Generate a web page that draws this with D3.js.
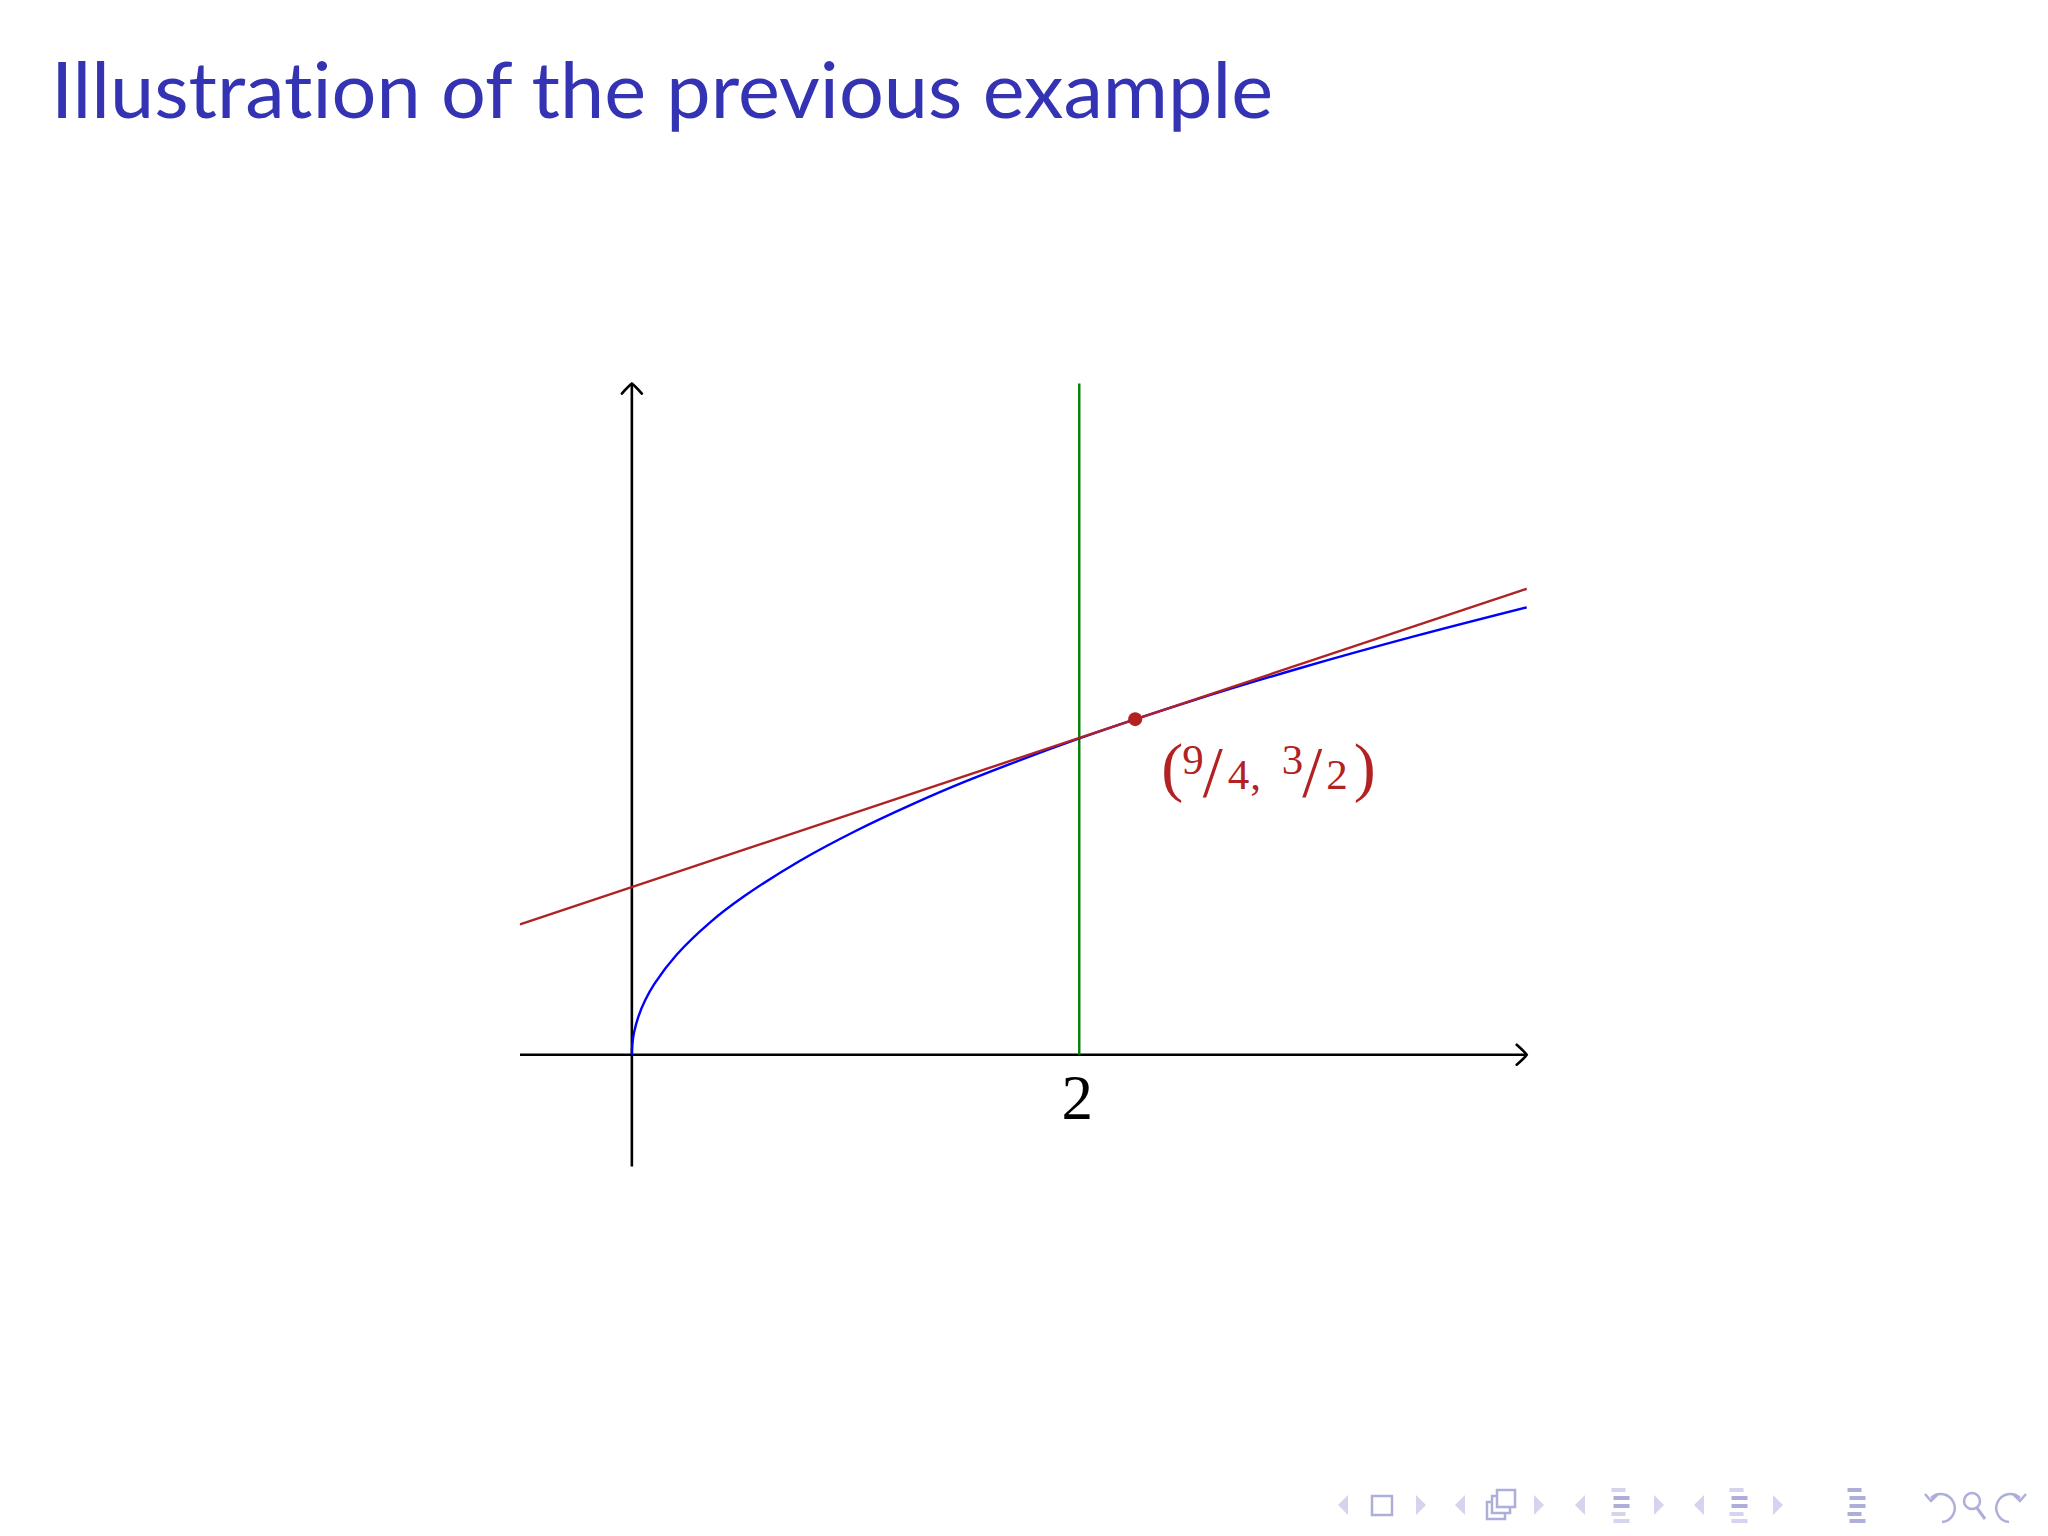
<!DOCTYPE html>
<html>
<head>
<meta charset="utf-8">
<script src="https://cdn.jsdelivr.net/npm/d3@7"></script>
<style>
  body { margin: 0; background: #fff; }
  svg { display: block; }
</style>
</head>
<body>
<script>
var curveX = [0, 0.002, 0.01, 0.03, 0.06, 0.1, 0.2, 0.35, 0.5, 0.75, 1, 1.25, 1.5, 2, 2.5, 3, 3.5, 4];
var curveY = [0, 0.045, 0.1, 0.173, 0.245, 0.316, 0.447, 0.592, 0.707, 0.866, 1, 1.118, 1.225, 1.414, 1.581, 1.732, 1.871, 2];
// red tangent line end points
var tangentX = [-0.5, 4];
var tangentY = [0.583, 2.083];
// green vertical line
var greenX = 2, greenY = [0, 3];
// marked point
var pointX = 2.25, pointY = 1.5;
var xTicks = [2];
var xExtent = [-0.5, 4], yExtent = [-0.5, 3];

var W = 2048, H = 1536;
var svg = d3.select("body").append("svg")
  .attr("width", W)
  .attr("height", H);

svg.append("text")
  .attr("x", 51)
  .attr("y", 118)
  .attr("fill", "#3333b3")
  .style("font-family", "Lato, 'Open Sans', sans-serif")
  .style("font-weight", 400)
  .style("font-variant-ligatures", "none")
  .style("font-feature-settings", "'liga' 0, 'dlig' 0")
  .style("font-size", "77px")
  .attr("textLength", 1222)
  .attr("lengthAdjust", "spacingAndGlyphs")
  .text("Illustration of the previous example");

var x = d3.scaleLinear().domain(xExtent).range([520, 1526.7]);
var y = d3.scaleLinear().domain(yExtent).range([1166.6, 383.6]);

var g = svg.append("g");

// arrow head, tikz "to" style
function arrowHead(px, py, angle) {
  g.append("path")
    .attr("d", "M-10,-10 Q-2,-3 0,0 Q-2,3 -10,10")
    .attr("transform", "translate(" + px + "," + py + ") rotate(" + angle + ")")
    .attr("fill", "none")
    .attr("stroke", "#000")
    .attr("stroke-width", 2.6)
    .attr("stroke-linecap", "round");
}

// x axis
g.append("line")
  .attr("x1", x(xExtent[0])).attr("x2", x(xExtent[1]))
  .attr("y1", y(0)).attr("y2", y(0))
  .attr("stroke", "#000").attr("stroke-width", 2.6);
arrowHead(x(xExtent[1]), y(0), 0);

// y axis
g.append("line")
  .attr("x1", x(0)).attr("x2", x(0))
  .attr("y1", y(yExtent[0])).attr("y2", y(yExtent[1]))
  .attr("stroke", "#000").attr("stroke-width", 2.6);
arrowHead(x(0), y(yExtent[1]), -90);

g.selectAll(".tick-label").data(xTicks).enter()
  .append("text")
  .attr("class", "tick-label")
  .attr("x", function (d) { return x(d) - 2; })
  .attr("y", 1119)
  .attr("text-anchor", "middle")
  .style("font-family", "'Liberation Serif', serif")
  .style("font-size", "63px")
  .text(function (d) { return d; });

// green line
g.append("line")
  .attr("x1", x(greenX)).attr("x2", x(greenX))
  .attr("y1", y(greenY[0])).attr("y2", y(greenY[1]))
  .attr("stroke", "#008000").attr("stroke-width", 2.4);

// blue curve
var curveData = curveX.map(function (d, i) { return [d, curveY[i]]; });
var line = d3.line()
  .x(function (d) { return x(d[0]); })
  .y(function (d) { return y(d[1]); })
  .curve(d3.curveCatmullRom.alpha(0.5));

g.append("path")
  .datum(curveData)
  .attr("d", line)
  .attr("fill", "none")
  .attr("stroke", "#0000ff")
  .attr("stroke-width", 2.4);

// red tangent
var tangentData = tangentX.map(function (d, i) { return [d, tangentY[i]]; });
g.append("path")
  .datum(tangentData)
  .attr("d", d3.line().x(function (d) { return x(d[0]); }).y(function (d) { return y(d[1]); }))
  .attr("fill", "none")
  .attr("stroke", "#b22222")
  .attr("stroke-width", 2.4);

g.append("circle")
  .attr("cx", x(pointX))
  .attr("cy", y(pointY))
  .attr("r", 7)
  .attr("fill", "#b22222");

// label (9/4, 3/2) as one text, nicefrac style via dx/dy shifts
var lab = g.append("text")
  .attr("x", x(pointX) + 26)
  .attr("y", 789)
  .attr("fill", "#b22222")
  .style("font-family", "'Liberation Serif', serif");
function piece(t, size, dx, dy) {
  lab.append("tspan").text(t)
    .attr("dx", dx)
    .attr("dy", dy)
    .style("font-size", size + "px");
}
piece("(", 66, 0, 0);
piece("9", 43, -1, -15);
piece("/", 72, -1, 22);
piece("4", 43, 5, -7);
piece(", ", 43, 1, 0);
piece("3", 43, 10, -15);
piece("/", 72, -1, 22);
piece("2", 43, 4, -7);
piece(")", 66, 6, 0);

// beamer navigation symbols
var nav = svg.append("g").attr("transform", "translate(0,1505)");
var faint = "#d4d4ee", mid = "#aeaedb";
function triL(cx) {
  nav.append("path").attr("d", "M" + (cx + 5) + ",-10 L" + (cx - 5) + ",0 L" + (cx + 5) + ",10 Z").attr("fill", faint);
}
function triR(cx) {
  nav.append("path").attr("d", "M" + (cx - 5) + ",-10 L" + (cx + 5) + ",0 L" + (cx - 5) + ",10 Z").attr("fill", faint);
}
function bars(cx, strong) {
  [-15, -7, 1, 9, 16].forEach(function (d, i) {
    var w = (i === 0 || i === 3) ? 14 : 16;
    nav.append("rect").attr("x", cx - w / 2 + (i === 0 || i === 3 ? -1.5 : 1.5)).attr("y", d - 2)
      .attr("width", w).attr("height", 4)
      .attr("fill", (strong || i === 1 || i === 2) ? mid : faint);
  });
}
triL(1343);
nav.append("rect").attr("x", 1372).attr("y", -9).attr("width", 20).attr("height", 19)
  .attr("fill", "none").attr("stroke", mid).attr("stroke-width", 2.5);
triR(1421);
triL(1460);
[[1487, -3], [1492, -9], [1497, -15]].forEach(function (d) {
  nav.append("rect").attr("x", d[0]).attr("y", d[1]).attr("width", 18).attr("height", 17)
    .attr("fill", "#fff").attr("stroke", mid).attr("stroke-width", 2.5);
});
triR(1539);
triL(1580);
bars(1620, false);
triR(1659);
triL(1699);
bars(1738, false);
triR(1778);
bars(1856, true);
// undo, search, redo
nav.append("path").attr("d", "M1931,-7 A14,14 0 1 1 1942,17").attr("fill", "none").attr("stroke", mid).attr("stroke-width", 2.5);
nav.append("path").attr("d", "M1925,-11 L1931,-4 L1938,-11").attr("fill", "none").attr("stroke", mid).attr("stroke-width", 2.5);
nav.append("circle").attr("cx", 1972).attr("cy", -4).attr("r", 8).attr("fill", "none").attr("stroke", mid).attr("stroke-width", 2.5);
nav.append("line").attr("x1", 1977).attr("y1", 3).attr("x2", 1985).attr("y2", 14).attr("stroke", mid).attr("stroke-width", 3);
nav.append("path").attr("d", "M2020,-7 A14,14 0 1 0 2009,17").attr("fill", "none").attr("stroke", mid).attr("stroke-width", 2.5);
nav.append("path").attr("d", "M2013,-11 L2020,-4 L2026,-11").attr("fill", "none").attr("stroke", mid).attr("stroke-width", 2.5);
</script>
</body>
</html>
